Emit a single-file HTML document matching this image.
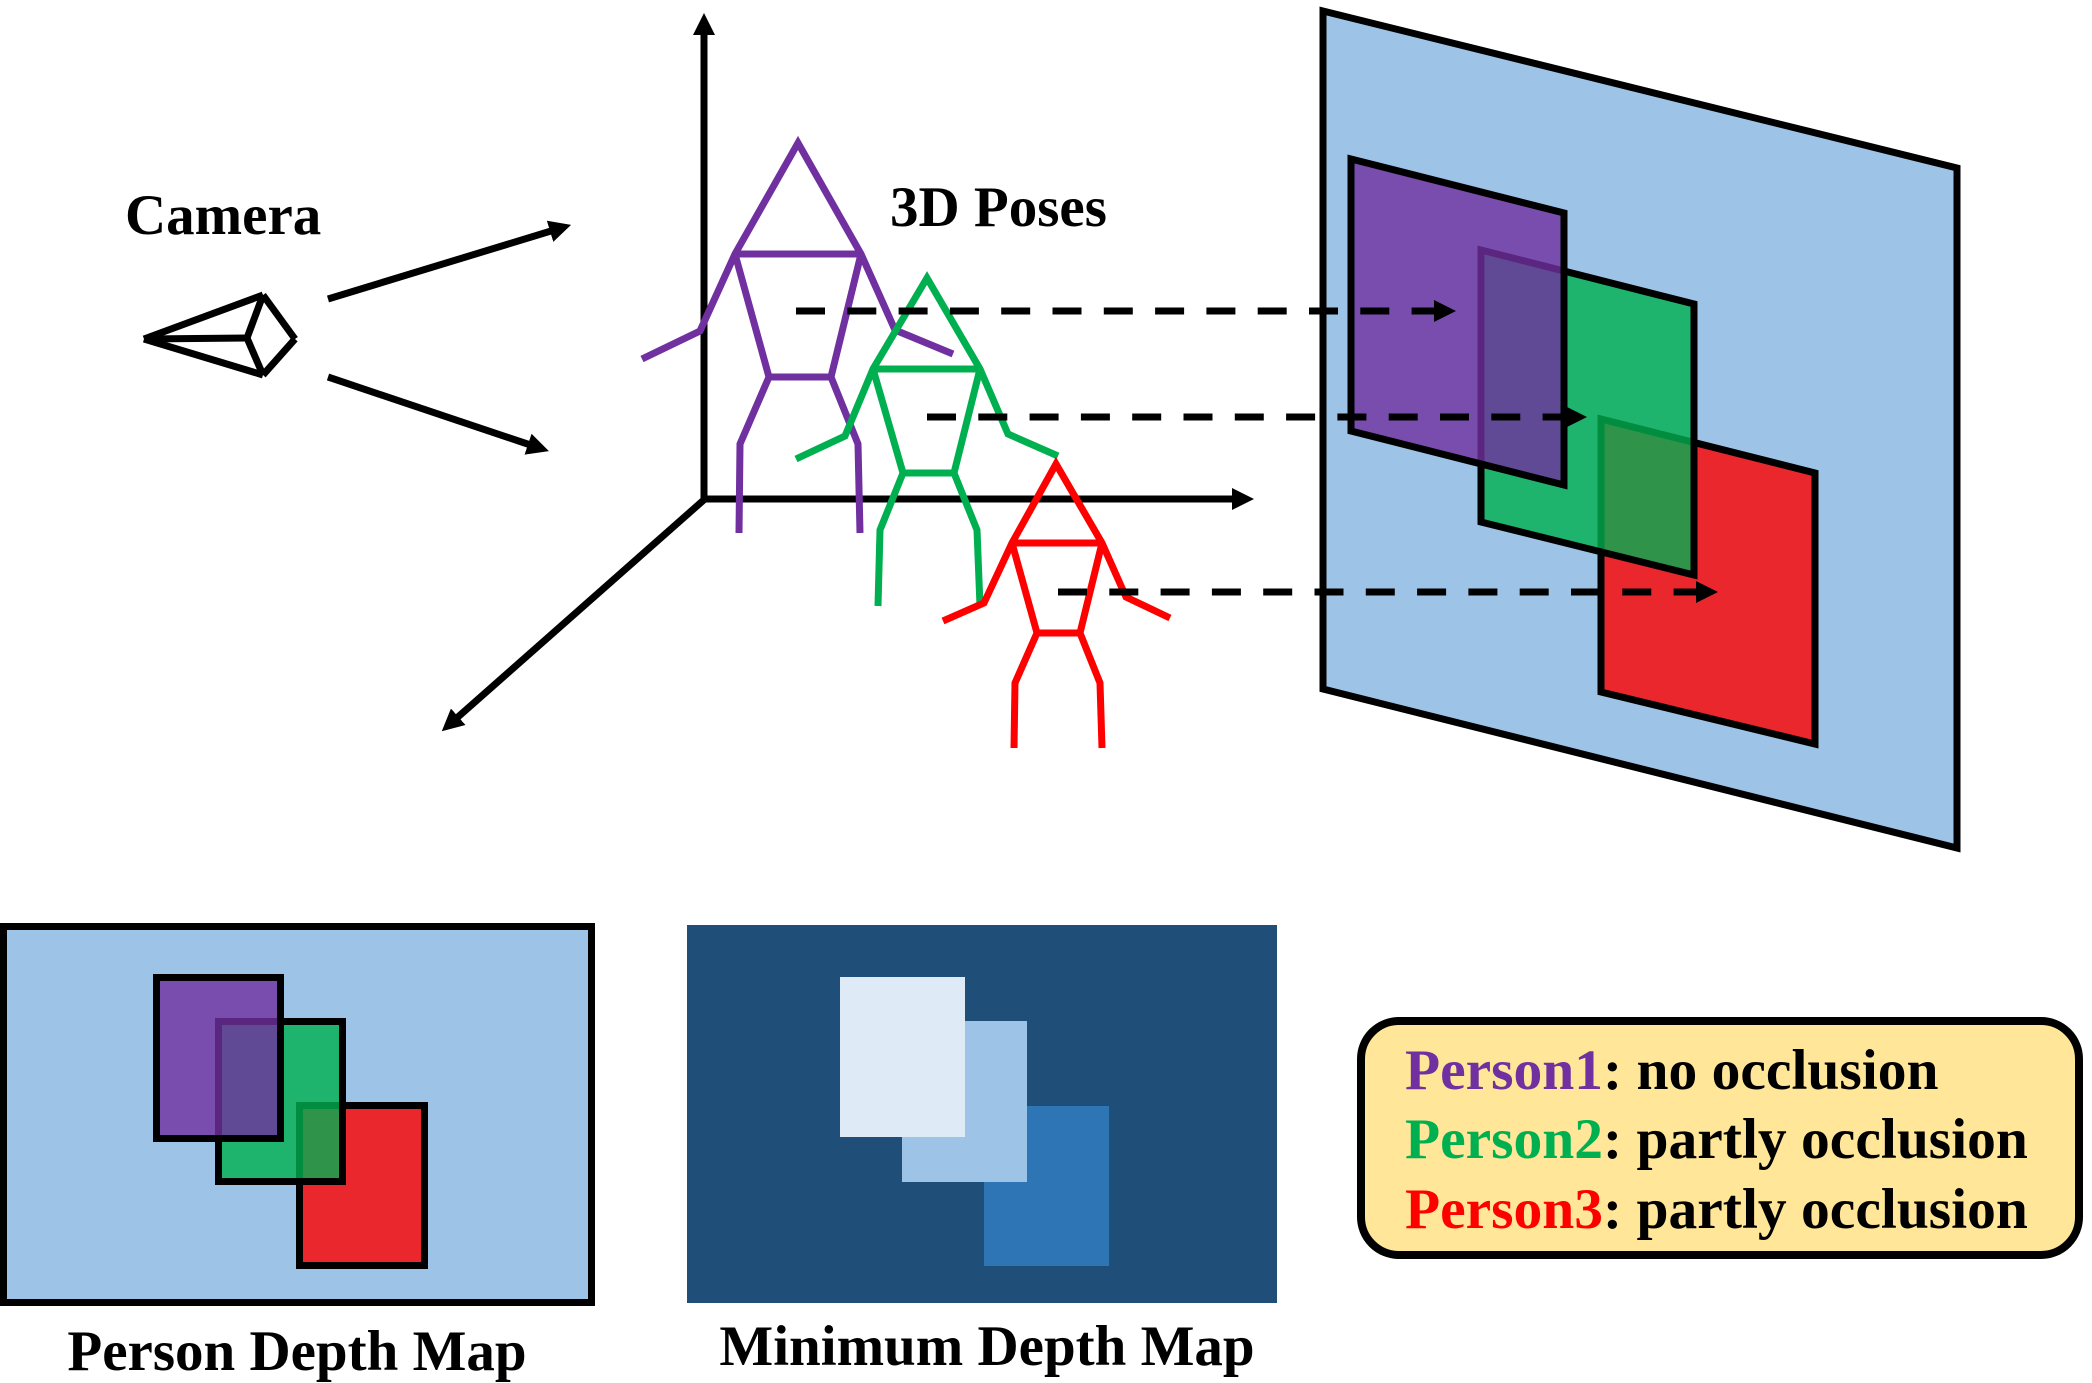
<!DOCTYPE html>
<html>
<head>
<meta charset="utf-8">
<style>
  html, body { margin: 0; padding: 0; background: #ffffff; }
  body { width: 2092px; height: 1383px; overflow: hidden; }
  svg { display: block; }
  .t { font-family: "Liberation Serif", "Times New Roman", serif; font-weight: bold; }
</style>
</head>
<body>
<svg width="2092" height="1383" viewBox="0 0 2092 1383" xmlns="http://www.w3.org/2000/svg">
  <defs>
    <marker id="ah" markerUnits="userSpaceOnUse" markerWidth="24" markerHeight="24" refX="1" refY="11" orient="auto">
      <path d="M0,0 L22,11 L0,22 z" fill="#000"/>
    </marker>
  </defs>

  <rect x="0" y="0" width="2092" height="1383" fill="#ffffff"/>

  <!-- Camera label -->
  <text class="t" x="125" y="234" font-size="57" fill="#000">Camera</text>

  <!-- Camera icon -->
  <g stroke="#000" stroke-width="7" fill="none" stroke-linejoin="miter">
    <line x1="144" y1="339" x2="263" y2="295"/>
    <line x1="144" y1="339" x2="263" y2="375"/>
    <line x1="144" y1="339" x2="247" y2="338"/>
    <line x1="247" y1="338" x2="263" y2="295"/>
    <line x1="247" y1="338" x2="263" y2="375"/>
    <line x1="263" y1="295" x2="295" y2="339"/>
    <line x1="263" y1="375" x2="295" y2="339"/>
  </g>

  <!-- Camera arrows -->
  <line x1="328" y1="299" x2="551" y2="231" stroke="#000" stroke-width="7" marker-end="url(#ah)"/>
  <line x1="328" y1="377" x2="529" y2="444.5" stroke="#000" stroke-width="7" marker-end="url(#ah)"/>

  <!-- 3D axes -->
  <line x1="704" y1="502" x2="704" y2="34" stroke="#000" stroke-width="7" marker-end="url(#ah)"/>
  <line x1="701" y1="499" x2="1233" y2="499" stroke="#000" stroke-width="7" marker-end="url(#ah)"/>
  <line x1="706" y1="498" x2="457.5" y2="717.4" stroke="#000" stroke-width="7" marker-end="url(#ah)"/>

  <!-- 3D Poses label -->
  <text class="t" x="890" y="226" font-size="57" fill="#000">3D Poses</text>

  <!-- Purple skeleton -->
  <g stroke="#7030A0" stroke-width="7" fill="none">
    <polyline points="642,359 700,331 735,254 798,143 861,254 895,330 953,354"/>
    <line x1="735" y1="254" x2="861" y2="254"/>
    <polyline points="735,254 769,377 831,377 861,254"/>
    <polyline points="769,377 740,444 739,533"/>
    <polyline points="831,377 858,444 860,533"/>
  </g>

  <!-- Green skeleton -->
  <g stroke="#00B050" stroke-width="7" fill="none">
    <polyline points="796,459 845,436 873,369 927,278 980,369 1008,434 1058,456"/>
    <line x1="873" y1="369" x2="980" y2="369"/>
    <polyline points="873,369 903,473 954,473 980,369"/>
    <polyline points="903,473 880,530 878,606"/>
    <polyline points="954,473 977,530 980,606"/>
  </g>

  <!-- Red skeleton -->
  <g stroke="#FF0000" stroke-width="7" fill="none">
    <polyline points="943,621 984,603 1012,543 1056,464 1102,543 1126,597 1170,618"/>
    <line x1="1012" y1="543" x2="1102" y2="543"/>
    <polyline points="1012,543 1037,633 1080,633 1102,543"/>
    <polyline points="1037,633 1015,683 1014,748"/>
    <polyline points="1080,633 1100,683 1102,748"/>
  </g>

  <!-- Image plane -->
  <polygon points="1323,11 1957,168 1957,848 1323,689" fill="#9DC3E6" stroke="#000" stroke-width="7"/>
  <polygon points="1601,419 1815,473 1815,744 1601,692" fill="#FF0000" fill-opacity="0.8" stroke="#000" stroke-width="7"/>
  <polygon points="1481,250 1694,304 1694,575 1481,522" fill="#00B050" fill-opacity="0.8" stroke="#000" stroke-width="7"/>
  <polygon points="1351,159 1564,213 1564,485 1351,431" fill="#7030A0" fill-opacity="0.8" stroke="#000" stroke-width="7"/>

  <!-- Dashed projection arrows -->
  <g stroke="#000" stroke-width="7" stroke-dasharray="29 22.3" fill="none">
    <line x1="796" y1="311" x2="1435" y2="311" marker-end="url(#ah)"/>
    <line x1="927" y1="417" x2="1566" y2="417" marker-end="url(#ah)"/>
    <line x1="1058" y1="592" x2="1697" y2="592" marker-end="url(#ah)"/>
  </g>

  <!-- Person Depth Map -->
  <rect x="3.5" y="926.5" width="588" height="376" fill="#9DC3E6" stroke="#000" stroke-width="7"/>
  <rect x="299.5" y="1105.5" width="125" height="160" fill="#FF0000" fill-opacity="0.8" stroke="#000" stroke-width="7"/>
  <rect x="218.5" y="1021.5" width="124" height="160" fill="#00B050" fill-opacity="0.8" stroke="#000" stroke-width="7"/>
  <rect x="156.5" y="977.5" width="124" height="161" fill="#7030A0" fill-opacity="0.8" stroke="#000" stroke-width="7"/>
  <text class="t" x="297" y="1370" font-size="57" fill="#000" text-anchor="middle">Person Depth Map</text>

  <!-- Minimum Depth Map -->
  <rect x="687" y="925" width="590" height="378" fill="#1F4E79"/>
  <rect x="984" y="1106" width="125" height="160" fill="#2E75B6"/>
  <rect x="902" y="1021" width="125" height="161" fill="#9DC3E6"/>
  <rect x="840" y="977" width="125" height="160" fill="#DEEBF7"/>
  <text class="t" x="987" y="1365" font-size="57" fill="#000" text-anchor="middle">Minimum Depth Map</text>

  <!-- Legend -->
  <rect x="1361" y="1021" width="718" height="234" rx="38" ry="38" fill="#FFE699" stroke="#000" stroke-width="8"/>
  <text class="t" x="1405" y="1089" font-size="57.5"><tspan fill="#7030A0">Person1</tspan><tspan fill="#000">: no occlusion</tspan></text>
  <text class="t" x="1405" y="1158" font-size="57.5"><tspan fill="#00B050">Person2</tspan><tspan fill="#000">: partly occlusion</tspan></text>
  <text class="t" x="1405" y="1228" font-size="57.5"><tspan fill="#FF0000">Person3</tspan><tspan fill="#000">: partly occlusion</tspan></text>
</svg>
</body>
</html>
